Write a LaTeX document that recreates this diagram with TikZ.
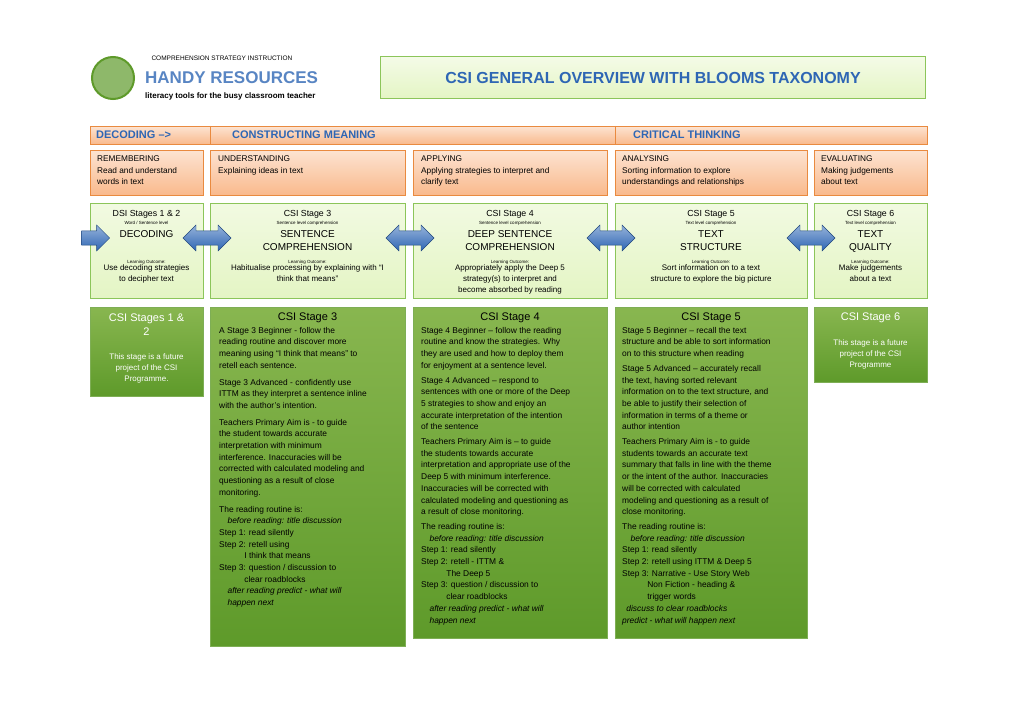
\documentclass[tikz,border=0pt]{standalone}
\usepackage{fontspec}
\setmainfont{Liberation Sans}
\usetikzlibrary{arrows.meta,shapes.arrows}
\definecolor{orb}{HTML}{F9B98C}
\definecolor{orbb}{HTML}{E98A3F}
\definecolor{grl}{HTML}{E4F5C4}
\definecolor{grb}{HTML}{8CC55A}
\definecolor{grd}{HTML}{7BAE3C}
\definecolor{gre}{HTML}{5E9A2A}
\definecolor{blu}{HTML}{2E66B4}
\tikzset{
 orbox/.style={draw=orbb,top color=orb!40,bottom color=orb,line width=0.8pt},
 lgbox/.style={draw=grb,top color=grl!50,bottom color=grl,line width=0.8pt},
 dgbox/.style={draw=gre!80,top color=grd!90!white,bottom color=gre,line width=0.8pt},
 bt/.style={font=\fontsize{8.3}{11.5}\selectfont,anchor=north west,align=left,inner sep=0pt},
 gt/.style={font=\fontsize{8.4}{11.7}\selectfont,anchor=north west,align=left,inner sep=0pt},
 st/.style={font=\fontsize{8.4}{11.5}\selectfont,align=center,inner sep=0pt},
 tiny/.style={font=\fontsize{4.5}{5}\selectfont,inner sep=0pt},
 dbl/.style={draw=blu!70!black,top color=blu!50,bottom color=blu,double arrow,minimum height=48pt,minimum width=26pt,double arrow head extend=5pt,inner xsep=0pt,inner ysep=6pt},
 hd/.style={font=\bfseries\fontsize{11}{12}\selectfont,text=blu,anchor=west,inner sep=0pt}
}
\begin{document}
\begin{tikzpicture}[x=1pt,y=-1pt]
\useasboundingbox[fill=white] (0,0) rectangle (1017,719);
% logo
\node[draw=gre,fill=gre!70,circle,minimum size=42pt,line width=2pt] (logo) at (113,78) {};
\node[font=\fontsize{6.5}{7}\selectfont,anchor=west] (csi) at (148,58) {COMPREHENSION STRATEGY INSTRUCTION};
\node[font=\bfseries\fontsize{17}{18}\selectfont,text=blu!80,anchor=west,inner sep=0pt] (hr) at (145,78) {HANDY RESOURCES};
\node[font=\bfseries\fontsize{8}{9}\selectfont,anchor=west,inner sep=0pt] (lt) at (145,96) {literacy tools for the busy classroom teacher};
% title
\node[draw=grb,top color=grl!40,bottom color=grl,line width=1pt,minimum width=545pt,minimum height=42pt,anchor=north west] (title) at (380,56) {};
\node[font=\bfseries\fontsize{16}{17}\selectfont,text=blu] (tt) at (title.center) {CSI GENERAL OVERVIEW WITH BLOOMS TAXONOMY};
% header bar
\node[orbox,minimum width=837pt,minimum height=18pt,anchor=north west] (bar) at (90,126) {};
\draw[orbb] (210,126) -- (210,144) (615,126) -- (615,144);
\node[hd] (h1) at (96,135) {DECODING -->};
\node[hd] (h2) at (232,135) {CONSTRUCTING MEANING};
\node[hd] (h3) at (633,135) {CRITICAL THINKING};
% columns
\foreach \n/\a/\b in {1/90/203,2/210/405,3/413/607,4/615/807,5/814/927}{
 \node[orbox,minimum width=\b-\a,minimum height=45pt,anchor=north west] (bl\n) at (\a,150) {};
 \node[lgbox,minimum width=\b-\a,minimum height=95pt,anchor=north west] (sg\n) at (\a,203) {};
}
\node[bt] (b1) at (97,156) {REMEMBERING\\Read and understand\\words in text};
\node[bt] (b2) at (218,156) {UNDERSTANDING\\Explaining ideas in text};
\node[bt] (b3) at (421,156) {APPLYING\\Applying strategies to  interpret and\\clarify text};
\node[bt] (b4) at (622,156) {ANALYSING\\Sorting information to explore\\understandings and relationships};
\node[bt] (b5) at (821,156) {EVALUATING\\Making judgements\\about text};
% stage boxes text
\foreach \n/\x/\t/\s/\m/\o in {
1/146.5/{DSI Stages 1 \& 2}/{Word / Sentence level}/{DECODING\\\strut}/{Use decoding strategies\\to decipher text},
2/307.5/{CSI Stage 3}/{Sentence level comprehension}/{SENTENCE\\COMPREHENSION}/{Habitualise processing by explaining with “I\\think that means”},
3/510/{CSI Stage 4}/{Sentence level comprehension}/{DEEP SENTENCE\\COMPREHENSION}/{Appropriately apply the Deep 5\\strategy(s) to interpret and\\become absorbed by reading},
4/711/{CSI Stage 5}/{Text level comprehension}/{TEXT\\STRUCTURE}/{Sort information on to a text\\structure to explore the big picture},
5/870.5/{CSI Stage 6}/{Text level comprehension}/{TEXT\\QUALITY}/{Make judgements\\about a text}}{
 \node[st,font=\fontsize{8.8}{10}\selectfont] (sa\n) at (\x,214) {\t};
 \node[tiny] (sb\n) at (\x,223) {\s};
 \node[st,font=\fontsize{10}{13}\selectfont,anchor=north] (sc\n) at (\x,230) {\m};
 \node[tiny] (sd\n) at (\x,262) {Learning Outcome:};
 \node[st,font=\fontsize{8}{11}\selectfont,anchor=north] (se\n) at (\x,265) {\o};
}
% arrows
\node[draw=blu!70!black,top color=blu!50,bottom color=blu,single arrow,minimum height=28pt,minimum width=26pt,single arrow head extend=5pt,inner xsep=0pt,inner ysep=6pt] (a0) at (92,238) {};
\node[dbl] (a1) at (207,238) {};
\node[dbl] (a2) at (410,238) {};
\node[dbl] (a3) at (611,238) {};
\node[dbl] (a4) at (811,238) {};
% green boxes
\node[dgbox,minimum width=113pt,minimum height=89pt,anchor=north west] (g1) at (90,307) {};
\node[dgbox,minimum width=195pt,minimum height=339pt,anchor=north west] (g2) at (210,307) {};
\node[dgbox,minimum width=194pt,minimum height=331pt,anchor=north west] (g3) at (413,307) {};
\node[dgbox,minimum width=192pt,minimum height=331pt,anchor=north west] (g4) at (615,307) {};
\node[dgbox,minimum width=113pt,minimum height=75pt,anchor=north west] (g5) at (814,307) {};
\node[st,text=white,font=\fontsize{11}{14}\selectfont] (t1) at (146.5,325) {CSI Stages 1 \&\\2};
\node[st,text=white,font=\fontsize{8}{11}\selectfont] (u1) at (146.5,368) {This stage is a future\\project of the CSI\\Programme.};
\node[st,text=white,font=\fontsize{11}{14}\selectfont] (t5) at (870.5,318) {CSI Stage 6};
\node[st,text=white,font=\fontsize{8}{11}\selectfont] (u5) at (870.5,354) {This stage is  a future\\project of the CSI\\Programme};
\node[st,font=\fontsize{11}{14}\selectfont] (t2) at (307.5,318) {CSI Stage 3};
\node[st,font=\fontsize{11}{14}\selectfont] (t3) at (510,318) {CSI Stage 4};
\node[st,font=\fontsize{11}{14}\selectfont] (t4) at (711,318) {CSI Stage 5};
\node[gt] (c2) at (219,327) {A Stage 3 Beginner - follow the\\reading routine and discover more\\meaning using “I think that means” to\\retell each sentence.\\[5pt]
Stage 3 Advanced - confidently use\\ITTM as they interpret a sentence inline\\with the author’s intention.\\[5pt]
Teachers Primary Aim is - to guide\\the student towards accurate\\interpretation with minimum\\interference. Inaccuracies will be\\corrected with calculated modeling and\\questioning as a result of close\\monitoring.\\[5pt]
The reading routine is:\\
\quad\textit{before reading: title discussion}\\
Step 1: read silently\\
Step 2: retell using\\
\hspace{3em}I think that means\\
Step 3: question / discussion to\\
\hspace{3em}clear roadblocks\\
\quad\textit{after reading predict - what will}\\
\quad\textit{happen next}};
\node[gt] (c3) at (421,327) {Stage 4 Beginner – follow the reading\\routine and know the strategies. Why\\they are used and how to deploy them\\for enjoyment at a sentence level.\\[3pt]
Stage 4 Advanced – respond to\\sentences with one or more of the Deep\\5 strategies to show and enjoy an\\accurate interpretation of the intention\\of the sentence\\[3pt]
Teachers Primary Aim is – to guide\\the students towards accurate\\interpretation and appropriate use of the\\Deep 5 with minimum interference.\\Inaccuracies will be corrected with\\calculated modeling and questioning as\\a result of close monitoring.\\[3pt]
The reading routine is:\\
\quad\textit{before reading: title discussion}\\
Step 1: read silently\\
Step 2: retell - ITTM \&\\
\hspace{3em}The Deep 5\\
Step 3: question / discussion to\\
\hspace{3em}clear roadblocks\\
\quad\textit{after reading predict - what will}\\
\quad\textit{happen next}};
\node[gt] (c4) at (622,327) {Stage 5 Beginner – recall the text\\structure and be able to sort information\\on to this structure when reading\\[3pt]
Stage 5 Advanced – accurately recall\\the text, having sorted relevant\\information on to the text structure, and\\be able to justify their selection of\\information in terms of a theme or\\author intention\\[3pt]
Teachers Primary Aim is  - to guide\\students towards an accurate text\\summary that falls in line with the theme\\or the intent of the author. Inaccuracies\\will be corrected with calculated\\modeling and questioning as a result of\\close monitoring.\\[3pt]
The reading routine is:\\
\quad\textit{before reading: title discussion}\\
Step 1: read silently\\
Step 2: retell using ITTM \& Deep 5\\
Step 3: Narrative  - Use  Story Web\\
\hspace{3em}Non Fiction - heading \&\\
\hspace{3em}trigger words\\
\enspace\textit{discuss to clear roadblocks}\\
\textit{predict - what will happen next}};
\end{tikzpicture}
\end{document}
